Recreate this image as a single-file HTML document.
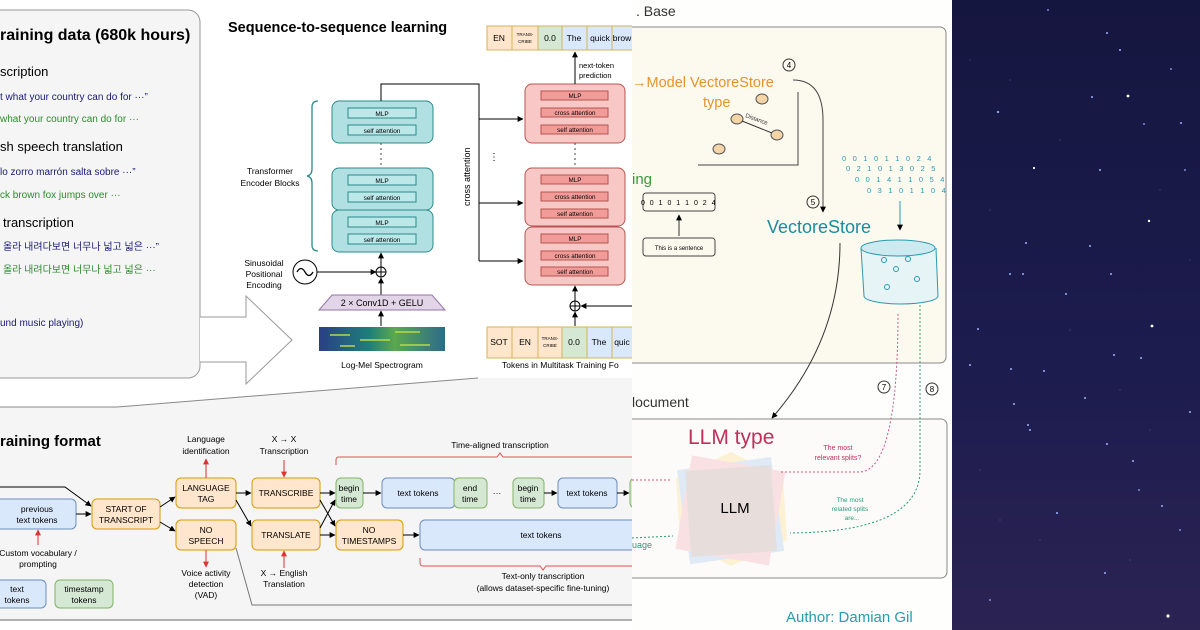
<!DOCTYPE html>
<html><head><meta charset="utf-8"><style>
html,body{margin:0;padding:0;width:1200px;height:630px;overflow:hidden;background:#fff}
svg{display:block}
text{font-family:"Liberation Sans","Noto Sans CJK KR",sans-serif}
</style></head><body>
<svg width="1200" height="630" viewBox="0 0 1200 630" xmlns="http://www.w3.org/2000/svg">
<defs>
<marker id="a" viewBox="0 0 10 10" refX="9" refY="5" markerWidth="6" markerHeight="6" orient="auto"><path d="M0,0L10,5L0,10z" fill="#000"/></marker>
<marker id="r" viewBox="0 0 10 10" refX="9" refY="5" markerWidth="6" markerHeight="6" orient="auto"><path d="M0,0L10,5L0,10z" fill="#e03030"/></marker>
<linearGradient id="sky" x1="0" y1="0" x2="0" y2="1"><stop offset="0" stop-color="#15163f"/><stop offset=".6" stop-color="#1d1c4f"/><stop offset="1" stop-color="#2b2352"/></linearGradient>
<linearGradient id="spec" x1="0" y1="0" x2="1" y2="0"><stop offset="0" stop-color="#2a3f86"/><stop offset=".4" stop-color="#1e7f7a"/><stop offset=".6" stop-color="#5aa84f"/><stop offset="1" stop-color="#2d6b8a"/></linearGradient>
<clipPath id="mid"><rect x="632" y="0" width="320" height="630"/></clipPath>
<clipPath id="left"><rect x="0" y="0" width="632" height="630"/></clipPath>
</defs>
<!-- LEFT PANEL -->
<g clip-path="url(#left)">
<rect x="0" y="0" width="632" height="630" fill="#fff"/>
<rect x="-20" y="10" width="220" height="368" rx="12" fill="#f5f5f5" stroke="#999" stroke-width="1"/>
<path d="M200,317 L246,317 L246,296 L292,340 L246,384 L246,362 L200,362" fill="#fff" stroke="#999"/>
<text x="0" y="40" font-size="16" font-weight="bold">raining data (680k hours)</text>
<text x="0" y="76" font-size="13">scription</text>
<text x="0" y="100" font-size="10" fill="#1a1a7a">t what your country can do for ···”</text>
<text x="0" y="122" font-size="10" fill="#2e8b2e">what your country can do for ···</text>
<text x="0" y="151" font-size="13">sh speech translation</text>
<text x="0" y="175" font-size="10" fill="#1a1a7a">lo zorro marrón salta sobre ···”</text>
<text x="0" y="198" font-size="10" fill="#2e8b2e">ck brown fox jumps over ···</text>
<text x="3" y="227" font-size="13">transcription</text>
<text x="3" y="250" font-size="10" fill="#1a1a7a">올라 내려다보면 너무나 넓고 넓은 ···”</text>
<text x="3" y="273" font-size="10" fill="#2e8b2e">올라 내려다보면 너무나 넓고 넓은 ···</text>
<text x="0" y="326" font-size="10" fill="#1a1a7a">und music playing)</text>

<text x="228" y="32" font-size="14.5" font-weight="bold">Sequence-to-sequence learning</text>

<path d="M318,101 q-6,0 -6,6 v62 q0,6 -5,7 q5,1 5,7 v62 q0,6 6,6" fill="none" stroke="#2a8a8a" stroke-width="1.3"/>
<text x="270" y="174" font-size="8.5" text-anchor="middle">Transformer</text>
<text x="270" y="186" font-size="8.5" text-anchor="middle">Encoder Blocks</text>
<g stroke="#2a8a8a" fill="#b1e0e3">
<rect x="332" y="101" width="101" height="42" rx="7"/>
<rect x="332" y="168" width="101" height="42" rx="7"/>
<rect x="332" y="210" width="101" height="42" rx="7"/>
</g>
<g stroke="#2a8a8a" fill="#bde8ea">
<rect x="348" y="108" width="68" height="10"/><rect x="348" y="125" width="68" height="10"/>
<rect x="348" y="175" width="68" height="10"/><rect x="348" y="192" width="68" height="10"/>
<rect x="348" y="217" width="68" height="10"/><rect x="348" y="234" width="68" height="10"/>
</g>
<g font-size="6.5" text-anchor="middle"><text x="382" y="116">MLP</text><text x="382" y="133">self attention</text><text x="382" y="183">MLP</text><text x="382" y="200">self attention</text><text x="382" y="225">MLP</text><text x="382" y="242">self attention</text></g>
<line x1="381" y1="143" x2="381" y2="168" stroke="#444" stroke-dasharray="2,3"/>
<text x="264" y="266" font-size="8.5" text-anchor="middle">Sinusoidal</text>
<text x="264" y="277" font-size="8.5" text-anchor="middle">Positional</text>
<text x="264" y="288" font-size="8.5" text-anchor="middle">Encoding</text>
<circle cx="305" cy="272" r="12" fill="#fff" stroke="#000"/>
<path d="M297,272 q4,-7 8,0 q4,7 8,0" fill="none" stroke="#000" stroke-width="1.3"/>
<line x1="317" y1="272" x2="376" y2="272" stroke="#000" marker-end="url(#a)"/>
<circle cx="381" cy="272" r="5" fill="#fff" stroke="#000"/><path d="M376,272h10M381,267v10" stroke="#000"/>
<line x1="381" y1="267" x2="381" y2="253" stroke="#000" marker-end="url(#a)"/>
<line x1="381" y1="295" x2="381" y2="278" stroke="#000" marker-end="url(#a)"/>
<line x1="381" y1="326" x2="381" y2="311" stroke="#000" marker-end="url(#a)"/>
<path d="M332,295 L432,295 L445,310 L319,310 z" fill="#e1d5e7" stroke="#9673a6"/>
<text x="382" y="306" font-size="9" text-anchor="middle">2 × Conv1D + GELU</text>
<rect x="319" y="327" width="126" height="24" fill="url(#spec)"/>
<path d="M330,335h20M360,340h30M395,332h25M400,345h30M340,346h15" stroke="#b8d84a" stroke-width="1.5"/>
<text x="382" y="368" font-size="8.5" text-anchor="middle">Log-Mel Spectrogram</text>
<path d="M381,101 V84 H479 V261" fill="none" stroke="#000"/>
<line x1="479" y1="119" x2="523" y2="119" stroke="#000" marker-end="url(#a)"/>
<line x1="479" y1="203" x2="523" y2="203" stroke="#000" marker-end="url(#a)"/>
<line x1="479" y1="261" x2="523" y2="261" stroke="#000" marker-end="url(#a)"/>
<text transform="translate(470,206) rotate(-90)" font-size="9">cross attention</text>
<text x="494" y="160" font-size="10" text-anchor="middle">⋮</text>
<g stroke="#b85450" fill="#f8c8c6">
<rect x="525" y="84" width="100" height="59" rx="7"/>
<rect x="525" y="168" width="100" height="58" rx="7"/>
<rect x="525" y="227" width="100" height="58" rx="7"/>
</g>
<g stroke="#b85450" fill="#f19c99">
<rect x="541" y="91" width="67" height="9"/><rect x="541" y="108" width="67" height="9"/><rect x="541" y="125" width="67" height="9"/>
<rect x="541" y="175" width="67" height="9"/><rect x="541" y="192" width="67" height="9"/><rect x="541" y="209" width="67" height="9"/>
<rect x="541" y="234" width="67" height="9"/><rect x="541" y="251" width="67" height="9"/><rect x="541" y="267" width="67" height="9"/>
</g>
<g font-size="6.3" text-anchor="middle"><text x="575" y="98">MLP</text><text x="575" y="115">cross attention</text><text x="575" y="132">self attention</text><text x="575" y="182">MLP</text><text x="575" y="199">cross attention</text><text x="575" y="216">self attention</text><text x="575" y="241">MLP</text><text x="575" y="258">cross attention</text><text x="575" y="274">self attention</text></g>
<line x1="575" y1="143" x2="575" y2="168" stroke="#444" stroke-dasharray="2,3"/>
<line x1="575" y1="84" x2="575" y2="52" stroke="#000" marker-end="url(#a)"/>
<text x="579" y="68" font-size="7.5">next-token</text><text x="579" y="78" font-size="7.5">prediction</text>
<circle cx="575" cy="306" r="5" fill="#fff" stroke="#000"/><path d="M570,306h10M575,301v10" stroke="#000"/>
<line x1="575" y1="301" x2="575" y2="286" stroke="#000" marker-end="url(#a)"/>
<line x1="575" y1="326" x2="575" y2="312" stroke="#000" marker-end="url(#a)"/>
<line x1="632" y1="306" x2="581" y2="306" stroke="#000" marker-end="url(#a)"/>
<g stroke="#d6b656" stroke-width="1">
<rect x="487" y="26" width="25" height="24" fill="#ffe6cc"/><rect x="512" y="26" width="26" height="24" fill="#ffe6cc"/>
<rect x="538" y="26" width="24" height="24" fill="#d5e8d4"/><rect x="562" y="26" width="25" height="24" fill="#dae8fc"/><rect x="587" y="26" width="25" height="24" fill="#dae8fc"/><rect x="612" y="26" width="25" height="24" fill="#dae8fc"/>
<rect x="487" y="327" width="25" height="31" fill="#ffe6cc"/><rect x="512" y="327" width="26" height="31" fill="#ffe6cc"/><rect x="538" y="327" width="24" height="31" fill="#ffe6cc"/>
<rect x="562" y="327" width="25" height="31" fill="#d5e8d4"/><rect x="587" y="327" width="25" height="31" fill="#dae8fc"/><rect x="612" y="327" width="25" height="31" fill="#dae8fc"/>
</g>
<g font-size="8.5" text-anchor="middle"><text x="499" y="41">EN</text><text x="550" y="41">0.0</text><text x="574" y="41">The</text><text x="600" y="41">quick</text><text x="622" y="41">brow</text>
<text x="499" y="345">SOT</text><text x="525" y="345">EN</text><text x="574" y="345">0.0</text><text x="599" y="345">The</text><text x="622" y="345">quic</text></g>
<g font-size="4.5" text-anchor="middle"><text x="525" y="36">TRANS-</text><text x="525" y="43">CRIBE</text><text x="550" y="340">TRANS-</text><text x="550" y="347">CRIBE</text></g>
<text x="502" y="368" font-size="8.5">Tokens in Multitask Training Fo</text>

<path d="M0,407 L117,407 L478,378 L632,378 L632,620 L0,620 z" fill="#f5f5f5"/>
<path d="M0,407 L117,407 L478,378" fill="none" stroke="#888"/>
<line x1="0" y1="620" x2="632" y2="620" stroke="#999" stroke-width="1.5"/>
<text x="0" y="446" font-size="15" font-weight="bold">raining format</text>
<g stroke-width="1">
<rect x="-6" y="499" width="82" height="30" rx="5" fill="#dae8fc" stroke="#6c8ebf"/>
<rect x="92" y="499" width="68" height="30" rx="5" fill="#ffe6cc" stroke="#d79b00"/>
<rect x="176" y="478" width="60" height="30" rx="5" fill="#ffe6cc" stroke="#d79b00"/>
<rect x="176" y="520" width="60" height="30" rx="5" fill="#ffe6cc" stroke="#d79b00"/>
<rect x="252" y="478" width="68" height="30" rx="5" fill="#ffe6cc" stroke="#d79b00"/>
<rect x="252" y="520" width="68" height="30" rx="5" fill="#ffe6cc" stroke="#d79b00"/>
<rect x="336" y="478" width="27" height="30" rx="5" fill="#d5e8d4" stroke="#82b366"/>
<rect x="382" y="478" width="73" height="30" rx="5" fill="#dae8fc" stroke="#6c8ebf"/>
<rect x="454" y="478" width="33" height="30" rx="5" fill="#d5e8d4" stroke="#82b366"/>
<rect x="513" y="478" width="31" height="30" rx="5" fill="#d5e8d4" stroke="#82b366"/>
<rect x="558" y="478" width="59" height="30" rx="5" fill="#dae8fc" stroke="#6c8ebf"/>
<rect x="630" y="478" width="20" height="30" rx="5" fill="#d5e8d4" stroke="#82b366"/>
<rect x="336" y="520" width="67" height="30" rx="5" fill="#ffe6cc" stroke="#d79b00"/>
<rect x="420" y="520" width="230" height="30" rx="5" fill="#dae8fc" stroke="#6c8ebf"/>
<rect x="-6" y="580" width="52" height="28" rx="5" fill="#dae8fc" stroke="#6c8ebf"/>
<rect x="55" y="580" width="58" height="28" rx="5" fill="#d5e8d4" stroke="#82b366"/>
</g>
<g font-size="8.5" text-anchor="middle">
<text x="37" y="512">previous</text><text x="37" y="523">text tokens</text>
<text x="126" y="512">START OF</text><text x="126" y="523">TRANSCRIPT</text>
<text x="206" y="491">LANGUAGE</text><text x="206" y="502">TAG</text>
<text x="206" y="533">NO</text><text x="206" y="544">SPEECH</text>
<text x="286" y="496">TRANSCRIBE</text><text x="286" y="538">TRANSLATE</text>
<text x="349" y="491">begin</text><text x="349" y="502">time</text>
<text x="418" y="496">text tokens</text>
<text x="470" y="491">end</text><text x="470" y="502">time</text>
<text x="497" y="496">···</text>
<text x="528" y="491">begin</text><text x="528" y="502">time</text>
<text x="587" y="496">text tokens</text>
<text x="369" y="533">NO</text><text x="369" y="544">TIMESTAMPS</text>
<text x="541" y="538">text tokens</text>
<text x="17" y="592">text</text><text x="17" y="603">tokens</text>
<text x="84" y="592">timestamp</text><text x="84" y="603">tokens</text>
<text x="206" y="442">Language</text><text x="206" y="454">identification</text>
<text x="284" y="442">X → X</text><text x="284" y="454">Transcription</text>
<text x="206" y="576">Voice activity</text><text x="206" y="587">detection</text><text x="206" y="598">(VAD)</text>
<text x="284" y="576">X → English</text><text x="284" y="587">Translation</text>
<text x="500" y="448">Time-aligned transcription</text>
<text x="543" y="579">Text-only transcription</text><text x="543" y="591">(allows dataset-specific fine-tuning)</text>
<text x="38" y="556">Custom vocabulary /</text><text x="38" y="567">prompting</text>
</g>
<g stroke="#000" fill="none">
<path d="M0,487 H65 L91,506" marker-end="url(#a)"/>
<line x1="76" y1="514" x2="91" y2="514" marker-end="url(#a)"/>
<line x1="160" y1="507" x2="175" y2="497" marker-end="url(#a)"/>
<line x1="160" y1="522" x2="175" y2="531" marker-end="url(#a)"/>
<line x1="236" y1="493" x2="251" y2="493" marker-end="url(#a)"/>
<line x1="236" y1="500" x2="251" y2="526" marker-end="url(#a)"/>
<line x1="320" y1="493" x2="335" y2="493" marker-end="url(#a)"/>
<line x1="320" y1="500" x2="335" y2="526" marker-end="url(#a)"/>
<line x1="320" y1="535" x2="335" y2="535" marker-end="url(#a)"/>
<line x1="320" y1="528" x2="335" y2="500" marker-end="url(#a)"/>
<line x1="363" y1="493" x2="381" y2="493" marker-end="url(#a)"/>
<line x1="544" y1="493" x2="557" y2="493" marker-end="url(#a)"/>
<line x1="617" y1="493" x2="629" y2="493" marker-end="url(#a)"/>
<line x1="403" y1="535" x2="419" y2="535" marker-end="url(#a)"/>
<path d="M236,548 L252,605 H632" stroke="#777"/>
<path d="M336,465 v-5 q0,-3 3,-3 h158 l3,-4 l3,4 h129" stroke="#e05050"/>
<path d="M420,558 v5 q0,3 3,3 h117 l3,4 l3,-4 h86" stroke="#e05050"/>
</g>
<g stroke="#e03030" fill="none">
<line x1="206" y1="478" x2="206" y2="459" marker-end="url(#r)"/>
<line x1="284" y1="460" x2="284" y2="477" marker-end="url(#r)"/>
<line x1="206" y1="550" x2="206" y2="567" marker-end="url(#r)"/>
<line x1="284" y1="568" x2="284" y2="551" marker-end="url(#r)"/>
<line x1="38" y1="545" x2="38" y2="530" marker-end="url(#r)"/>
</g>
</g>

<!-- MIDDLE PANEL -->
<g clip-path="url(#mid)">
<rect x="632" y="0" width="320" height="630" fill="#fefefc"/>
<text x="636" y="16" font-size="14" fill="#333">. Base</text>
<rect x="600" y="27" width="346" height="336" rx="6" fill="#fcfaee" stroke="#888"/>
<text x="632" y="87" font-size="14.5" fill="#e8922a" font-family="DejaVu Sans">→Model VectoreStore</text>
<text x="703" y="107" font-size="14.5" fill="#e8922a" font-family="DejaVu Sans">type</text>
<circle cx="789" cy="65" r="6" fill="none" stroke="#333"/><text x="789" y="68" font-size="8" text-anchor="middle">4</text>
<path d="M698,165 H798 V92" fill="none" stroke="#444"/>
<g fill="#f3d5a8" stroke="#555"><ellipse cx="762" cy="99" rx="6" ry="5"/><ellipse cx="737" cy="119" rx="6" ry="5"/><ellipse cx="777" cy="135" rx="6" ry="5"/><ellipse cx="719" cy="149" rx="6" ry="5"/></g>
<line x1="742" y1="121" x2="772" y2="133" stroke="#333"/>
<text x="745" y="117" font-size="6" fill="#333" transform="rotate(20 745 117)">Distance</text>
<path d="M793,80 q30,0 30,40 V212" fill="none" stroke="#444" marker-end="url(#a)"/>
<text x="632" y="184" font-size="15" fill="#3a9a3a" font-family="DejaVu Sans">ing</text>
<rect x="643" y="193" width="72" height="18" rx="3" fill="none" stroke="#444"/>
<text x="679" y="205" font-size="7" text-anchor="middle" letter-spacing="1.5">0 0 1 0 1 1 0 2 4</text>
<line x1="679" y1="236" x2="679" y2="215" stroke="#333" marker-end="url(#a)"/>
<rect x="643" y="238" width="72" height="18" rx="3" fill="none" stroke="#444"/>
<text x="679" y="250" font-size="6" text-anchor="middle">This is a sentence</text>
<circle cx="813" cy="202" r="6" fill="none" stroke="#333"/><text x="813" y="205" font-size="8" text-anchor="middle">5</text>
<text x="767" y="233" font-size="18" fill="#1c8aa0" font-family="DejaVu Sans">VectoreStore</text>
<g font-size="7.5" fill="#2a9ab0" letter-spacing="2.2"><text x="842" y="161">0 0 1 0 1 1 0 2 4</text><text x="846" y="171">0 2 1 0 1 3 0 2 5</text><text x="855" y="182">0 0 1 4 1 1 0 5 4</text><text x="867" y="193">0 3 1 0 1 1 0 4 4</text></g>
<line x1="900" y1="201" x2="900" y2="230" stroke="#2a9ab0" marker-end="url(#a)"/>
<path d="M861,248 L864,296 A37,8 0 0 0 938,296 L936,248" fill="#e6f4f6" stroke="#2a9ab0"/>
<ellipse cx="898" cy="248" rx="37" ry="8" fill="#cdeaf0" stroke="#2a9ab0"/>
<g fill="none" stroke="#2a9ab0"><circle cx="884" cy="260" r="2.5"/><circle cx="908" cy="259" r="2.5"/><circle cx="896" cy="269" r="2.5"/><circle cx="917" cy="279" r="2.5"/><circle cx="887" cy="287" r="2.5"/></g>
<path d="M840,243 Q840,340 772,418" fill="none" stroke="#333" marker-end="url(#a)"/>
<text x="632" y="407" font-size="14" fill="#333" font-family="DejaVu Sans">locument</text>
<circle cx="884" cy="387" r="6" fill="none" stroke="#333"/><text x="884" y="390" font-size="8" text-anchor="middle">7</text>
<circle cx="932" cy="389" r="6" fill="none" stroke="#333"/><text x="932" y="392" font-size="8" text-anchor="middle">8</text>
<rect x="600" y="419" width="347" height="159" rx="6" fill="#fdfbfa" stroke="#888"/>
<text x="688" y="444" font-size="21" fill="#c0305a" font-family="DejaVu Sans">LLM type</text>
<g opacity=".35"><polygon points="731,452 783,478 787,540 731,566 680,540 676,478" fill="#fbe08a"/>
<rect x="683" y="463" width="95" height="95" fill="#a9cdf0" transform="rotate(-8 731 510)"/>
<rect x="683" y="463" width="95" height="95" fill="#f4b0b8" transform="rotate(10 731 510)"/></g>
<rect x="688" y="468" width="86" height="86" fill="#e2dcd8" opacity=".8" transform="rotate(-4 731 510)"/>
<text x="735" y="513" font-size="15" text-anchor="middle" font-family="DejaVu Sans">LLM</text>
<text x="838" y="450" font-size="7" fill="#c0305a" text-anchor="middle">The most</text>
<text x="838" y="460" font-size="7" fill="#c0305a" text-anchor="middle">relevant splits?</text>
<text x="850" y="502" font-size="6.5" fill="#2a9a7a" text-anchor="middle">The most</text>
<text x="850" y="511" font-size="6.5" fill="#2a9a7a" text-anchor="middle">related splits</text>
<text x="852" y="520" font-size="6.5" fill="#2a9a7a" text-anchor="middle">are...</text>
<path d="M781,472 H860 Q898,470 898,312" fill="none" stroke="#d0508a" stroke-dasharray="2,2"/>
<path d="M920,305 V470 Q920,532 790,533" fill="none" stroke="#2a9a7a" stroke-dasharray="2,2"/>
<line x1="632" y1="480" x2="670" y2="480" stroke="#d0508a" stroke-dasharray="2,2"/>
<line x1="632" y1="538" x2="673" y2="536" stroke="#2a9a7a" stroke-dasharray="2,2"/>
<text x="632" y="548" font-size="9" fill="#2a9a7a">uage</text>
<text x="786" y="622" font-size="15" fill="#2a9ab0" font-family="DejaVu Sans">Author: Damian Gil</text>
</g>

<!-- RIGHT PANEL -->
<rect x="952" y="0" width="248" height="630" fill="url(#sky)"/>
<g fill="#9fb0ff">
<circle cx="1107" cy="33" r="1"/><circle cx="1120" cy="50" r="1"/><circle cx="1128" cy="96" r="1.4" fill="#fff"/><circle cx="998" cy="112" r="1.1"/><circle cx="1092" cy="97" r="1"/><circle cx="1144" cy="124" r="0.9"/><circle cx="1034" cy="168" r="1.1" fill="#fff"/><circle cx="1100" cy="170" r="1"/><circle cx="1149" cy="221" r="1.2" fill="#fff"/><circle cx="1026" cy="243" r="1"/><circle cx="1090" cy="246" r="1"/><circle cx="1111" cy="274" r="1"/><circle cx="1010" cy="274" r="1"/><circle cx="1023" cy="274" r="1"/><circle cx="1066" cy="294" r="1"/><circle cx="1152" cy="326" r="1.4" fill="#fff"/><circle cx="978" cy="329" r="1"/><circle cx="1114" cy="355" r="1"/><circle cx="1141" cy="358" r="1"/><circle cx="1011" cy="369" r="1"/><circle cx="1044" cy="371" r="1"/><circle cx="1028" cy="425" r="1"/><circle cx="1030" cy="430" r="1"/><circle cx="1014" cy="404" r="1"/><circle cx="1107" cy="444" r="1"/><circle cx="1133" cy="461" r="1"/><circle cx="1139" cy="490" r="0.9"/><circle cx="1162" cy="506" r="1"/><circle cx="1057" cy="513" r="1"/><circle cx="1181" cy="123" r="1"/><circle cx="1171" cy="69" r="0.9"/><circle cx="970" cy="365" r="1"/><circle cx="1168" cy="616" r="1.6" fill="#fff"/><circle cx="1105" cy="573" r="1"/><circle cx="1085" cy="398" r="1"/><circle cx="1190" cy="412" r="1"/><circle cx="1048" cy="10" r="0.9"/><circle cx="1185" cy="170" r="0.9"/><circle cx="1180" cy="530" r="0.9"/><circle cx="990" cy="600" r="0.9"/>
</g>
<g fill="#6a6aa0" opacity=".7">
<circle cx="970" cy="60" r=".6"/><circle cx="1010" cy="80" r=".6"/><circle cx="1060" cy="140" r=".6"/><circle cx="1160" cy="190" r=".6"/><circle cx="990" cy="210" r=".6"/><circle cx="1070" cy="330" r=".6"/><circle cx="1120" cy="390" r=".6"/><circle cx="980" cy="470" r=".6"/><circle cx="1040" cy="540" r=".6"/><circle cx="1130" cy="560" r=".6"/><circle cx="1190" cy="260" r=".6"/><circle cx="1000" cy="520" r=".6"/><circle cx="1150" cy="430" r=".6"/>
</g>
</svg>
</body></html>
